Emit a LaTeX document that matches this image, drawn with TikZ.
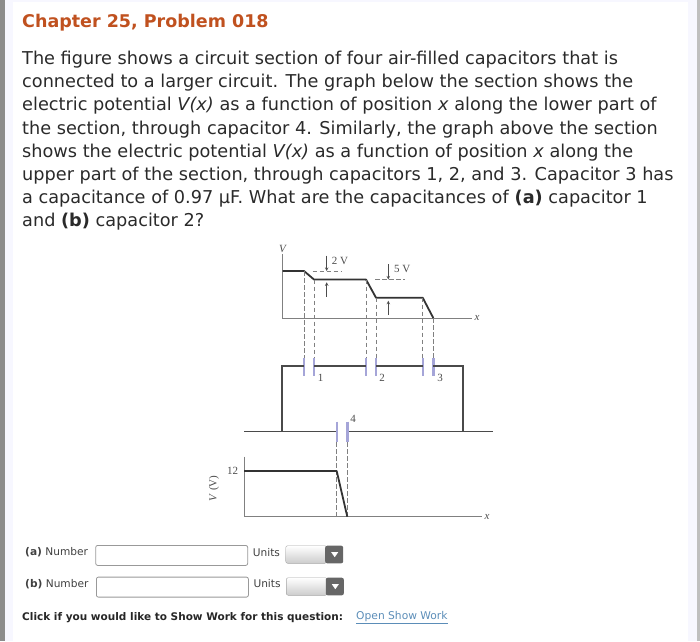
\documentclass[tikz,border=0pt]{standalone}
\usepackage{fontspec}
\setmainfont{DejaVu Sans}
\usetikzlibrary{positioning, arrows}
\definecolor{titlered}{HTML}{C0511F}
\definecolor{plateblue}{HTML}{A5A5D8}
\definecolor{wiregray}{HTML}{4A4A4A}
\definecolor{linkblue}{HTML}{5B8DB8}
\definecolor{bodytext}{HTML}{2A2A2A}
\newfontfamily\figfont{Liberation Serif}
\tikzset{
    >=stealth,
    wire/.style={draw=wiregray, line width=1.5pt},
    axis/.style={draw=gray, line width=0.8pt},
    curve/.style={draw=black!80, line width=1.8pt, line join=round},
    guide/.style={draw=gray, line width=0.8pt, dash pattern=on 4.5pt off 2.5pt},
    plate/.style={draw=plateblue, line width=2.4pt},
    figlabel/.style={font=\figfont\fontsize{11}{12}\selectfont, text=black!70, inner sep=0pt},
    formlabel/.style={font=\fontsize{10.6}{12}\selectfont, text=black!75, inner sep=0pt, anchor=west},
    field/.style={draw=gray!80, rounded corners=2pt, line width=0.8pt, fill=white, minimum width=152pt, minimum height=20pt, inner sep=0pt, anchor=north west}
}

\begin{document}
\begin{tikzpicture}[x=1pt, y=-1pt]
    % page
    \useasboundingbox (0,0) rectangle (700,641);
    \fill[black!45] (0,0) rectangle (5,641);
    \fill[blue!3] (5,0) rectangle (13,641);
    \fill[blue!3] (5,0) rectangle (697,2);
    \fill[blue!3] (688,0) rectangle (697,641);
    \fill[gray!50] (697,0) rectangle (700,641);

    % question text
    \node[anchor=west, inner sep=0pt, text=titlered, font=\bfseries\fontsize{17.5}{20}\selectfont] (title) at (22,23) {Chapter 25, Problem 018};
    \node[anchor=north west, inner sep=0pt, align=left, text=bodytext, font=\fontsize{17.7}{23.14}\selectfont] (problem) at (22,51) {The figure shows a circuit section of four air-filled capacitors that is\\
connected to a larger circuit. The graph below the section shows the\\
electric potential \textit{V(x)} as a function of position \textit{x} along the lower part of\\
the section, through capacitor 4. Similarly, the graph above the section\\
shows the electric potential \textit{V(x)} as a function of position \textit{x} along the\\
upper part of the section, through capacitors 1, 2, and 3. Capacitor 3 has\\
a capacitance of 0.97 μF. What are the capacitances of \textbf{(a)} capacitor 1\\
and \textbf{(b)} capacitor 2?};

    % upper graph
    \coordinate (vtop) at (282.5,254);
    \coordinate (uo) at (282.5,318);
    \coordinate (uend) at (472,318);
    \coordinate (u0) at (282.5,271);
    \coordinate (u1) at (304,271);
    \coordinate (u2) at (314,279.5);
    \coordinate (u3) at (366,279.5);
    \coordinate (u4) at (376,297.7);
    \coordinate (u5) at (422.7,297.7);
    \coordinate (u6) at (433.3,318);
    \draw[axis] (vtop) -- (uo) -- (uend);
    \draw[curve] (u0) -- (u1) -- (u2) -- (u3) -- (u4) -- (u5) -- (u6);
    \node[figlabel] (vlabel) at (283,249) {\textit{V}};
    \node[figlabel] (xupper) at (477,318) {\textit{x}};

    % capacitors 1, 2, 3
    \coordinate (wl) at (282,366);
    \coordinate (wr) at (463,366);
    \foreach \name/\xa/\xb in {a/304/314, b/366/376, c/422.7/433.3} {
        \coordinate (\name1) at (\xa,358);
        \coordinate (\name2) at (\xa,375.7);
        \coordinate (\name3) at (\xb,358);
        \coordinate (\name4) at (\xb,375.7);
        \coordinate (\name5) at (\xa,366);
        \coordinate (\name6) at (\xb,366);
        \draw[plate] (\name1) -- (\name2);
        \draw[plate] (\name3) -- (\name4);
    }
    \draw[guide] (u1) -- (a1);
    \draw[guide] (u2) -- (a3);
    \draw[guide] (u3) -- (b1);
    \draw[guide] (u4) -- (b3);
    \draw[guide] (u5) -- (c1);
    \draw[guide] (u6) -- (c3);
    \coordinate (ll) at (282,431.7);
    \coordinate (lr) at (463,431.7);
    \draw[wire] (ll) -- (wl) -- (a5);
    \draw[wire] (a6) -- (b5);
    \draw[wire] (b6) -- (c5);
    \draw[wire] (c6) -- (wr) -- (lr);
    \node[figlabel] (one) at (320.7,378) {1};
    \node[figlabel] (two) at (382,378) {2};
    \node[figlabel] (three) at (440,378) {3};

    % 2 V and 5 V marks
    \coordinate (da) at (326.7,255.7);
    \coordinate (db) at (326.7,271);
    \coordinate (dc) at (326.7,296.7);
    \coordinate (dd) at (326.7,282.3);
    \coordinate (de) at (312.7,271);
    \coordinate (df) at (341.7,271);
    \draw[->, black!70, line width=0.6pt] (da) -- (db);
    \draw[->, black!70, line width=0.6pt] (dc) -- (dd);
    \draw[guide] (de) -- (df);
    \node[figlabel, anchor=west] (twov) at (331.7,261) {2 V};
    \coordinate (ea) at (388.3,264.3);
    \coordinate (eb) at (388.3,279.5);
    \coordinate (ec) at (388.3,315);
    \coordinate (ed) at (388.3,300.7);
    \coordinate (ee) at (375,279.5);
    \coordinate (ef) at (405,279.5);
    \draw[->, black!70, line width=0.6pt] (ea) -- (eb);
    \draw[->, black!70, line width=0.6pt] (ec) -- (ed);
    \draw[guide] (ee) -- (ef);
    \node[figlabel, anchor=west] (fivev) at (394,269) {5 V};

    % capacitor 4 and lower wire
    \coordinate (ba) at (244,431.7);
    \coordinate (bb) at (336.7,431.7);
    \coordinate (bc) at (347.3,431.7);
    \coordinate (bd) at (492.7,431.7);
    \coordinate (pa) at (336.7,421.7);
    \coordinate (pb) at (336.7,442.3);
    \coordinate (pc) at (347.3,421.7);
    \coordinate (pd) at (347.3,442.3);
    \draw[wire] (ba) -- (bb);
    \draw[wire] (bc) -- (bd);
    \draw[plate] (pa) -- (pb);
    \draw[plate] (pc) -- (pd);
    \node[figlabel] (four) at (353,419) {4};

    % lower graph
    \coordinate (ltop) at (244,456.7);
    \coordinate (lo) at (244,516.7);
    \coordinate (lend) at (481.7,516.7);
    \coordinate (l0) at (244,471);
    \coordinate (l1) at (336.7,471);
    \coordinate (l2) at (347.3,516.7);
    \coordinate (l3) at (336.7,516.7);
    \draw[axis] (ltop) -- (lo) -- (lend);
    \draw[guide] (pb) -- (l3);
    \draw[guide] (pd) -- (l2);
    \draw[curve] (l0) -- (l1) -- (l2);
    \node[figlabel] (twelve) at (232.7,471) {12};
    \node[figlabel, rotate=90] (vaxis) at (214,488.5) {\textit{V} (V)};
    \node[figlabel] (xlower) at (487,516.7) {\textit{x}};

    % answer form
    \node[formlabel] (alabel) at (25,552.5) {\textbf{(a)} Number};
    \node[formlabel] (blabel) at (25,584) {\textbf{(b)} Number};
    \node[field] (afield) at (95.3,545) {};
    \node[field] (bfield) at (96,576.7) {};
    \node[formlabel] (aunits) at (252.7,552.5) {Units};
    \node[formlabel] (bunits) at (253.3,584) {Units};
    \foreach \name/\ya/\xa in {adrop/545.7/285.7, bdrop/577.7/286.3} {
        \shade[top color=white, bottom color=gray!40, draw=gray!70, rounded corners=2pt] (\xa,\ya) rectangle ++(41,17.6);
        \fill[black!60, rounded corners=2pt] (\xa+39.5,\ya) rectangle ++(18,17.6);
        \fill[white] (\xa+45.5,\ya+6.5) -- ++(7,0) -- ++(-3.5,5) -- cycle;
    }
    \node[anchor=west, inner sep=0pt, font=\bfseries\fontsize{10.5}{12}\selectfont, text=black!85] (showwork) at (22,618) {Click if you would like to Show Work for this question:};
    \node[anchor=west, inner sep=0pt, font=\fontsize{10.7}{12}\selectfont, text=linkblue] (openwork) at (356,617.5) {\underline{Open Show Work}};
\end{tikzpicture}
\end{document}
